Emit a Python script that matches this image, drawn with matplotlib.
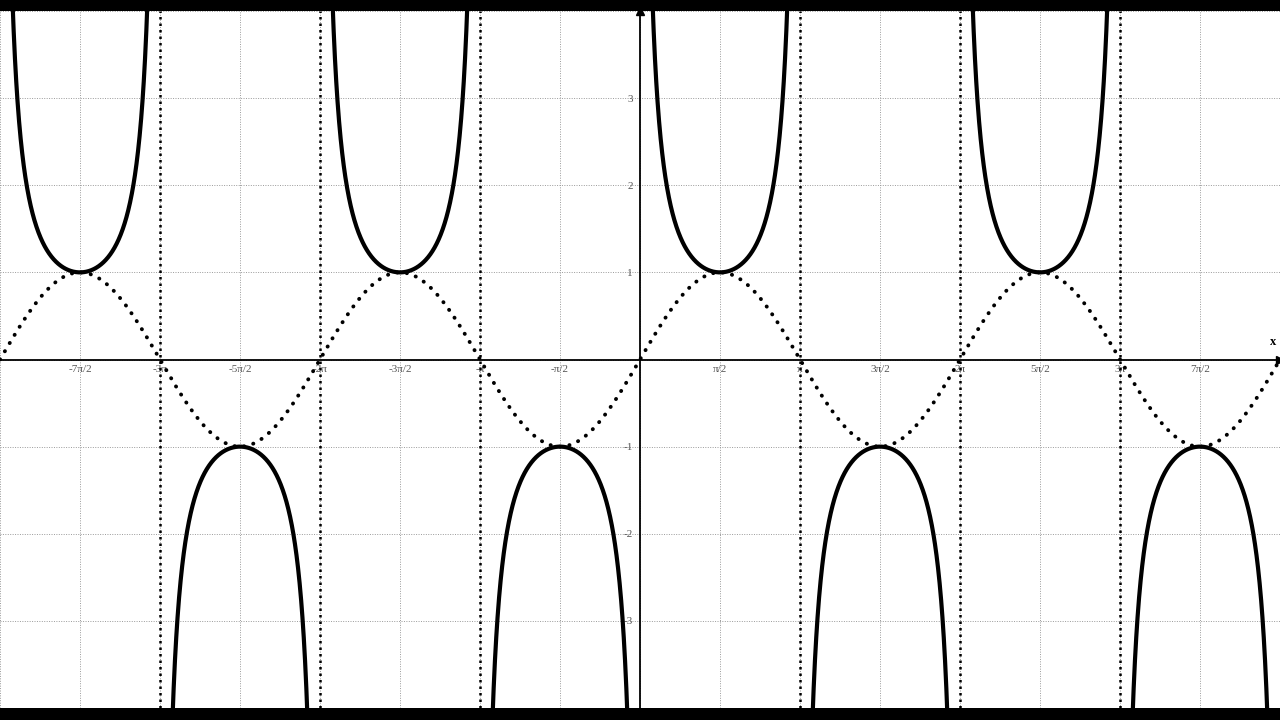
import numpy as np
import matplotlib.pyplot as plt

# x range and ticks (multiples of pi/2)
x_min, x_max = -4 * np.pi, 4 * np.pi
y_min, y_max = -4, 4
half_steps = [-7, -6, -5, -4, -3, -2, -1, 1, 2, 3, 4, 5, 6, 7]
x_tick_labels = ['-7π/2', '-3π', '-5π/2', '-2π', '-3π/2', '-π', '-π/2',
                 'π/2', 'π', '3π/2', '2π', '5π/2', '3π', '7π/2']
y_ticks = [-3, -2, -1, 1, 2, 3]
asymptote_steps = [-3, -2, -1, 1, 2, 3]   # multiples of pi
branch_starts = [-4, -3, -2, -1, 0, 1, 2, 3]  # csc branches start at k*pi

fig = plt.figure(figsize=(12.8, 7.2), dpi=100, facecolor='black')
ax = fig.add_axes([0, 12 / 720, 1, 697 / 720])
ax.set_facecolor('white')
ax.set_xlim(x_min, x_max)
ax.set_ylim(y_min, y_max)

# grid
grid_kw = dict(color='#9a9a9a', linestyle=(0, (1, 1.5)), linewidth=0.7, zorder=1)
for k in range(-8, 9):
    ax.axvline(k * np.pi / 2, **grid_kw)
for v in range(-4, 5):
    ax.axhline(v, **grid_kw)

# asymptotes
for k in asymptote_steps:
    ax.axvline(k * np.pi, color='black', linestyle=(0, (1, 1.6)),
               linewidth=1.8, zorder=2)

# sin(x), dotted
xs = np.linspace(x_min, x_max, 4000)
ax.plot(xs, np.sin(xs), color='black', linewidth=2.8,
        linestyle=(0, (0.05, 2.4)), dash_capstyle='round', zorder=3)

# csc(x), solid branches
for k in branch_starts:
    xb = np.linspace(k * np.pi + 0.05, (k + 1) * np.pi - 0.05, 600)
    ax.plot(xb, 1 / np.sin(xb), color='black', linewidth=3.0, zorder=4)

# axes through origin
for s in ['top', 'right']:
    ax.spines[s].set_visible(False)
ax.spines['left'].set_position(('data', 0))
ax.spines['bottom'].set_position(('data', 0))
for s in ['left', 'bottom']:
    ax.spines[s].set_linewidth(1.3)
    ax.spines[s].set_zorder(5)

ax.set_xticks([h * np.pi / 2 for h in half_steps])
ax.set_xticklabels(x_tick_labels)
ax.set_yticks(y_ticks)
ax.set_yticklabels([str(v) for v in y_ticks])
ax.tick_params(axis='both', length=0, labelsize=8, labelcolor='#555555')
ax.tick_params(axis='x', pad=4)
ax.tick_params(axis='y', pad=5)
for lab in ax.get_xticklabels() + ax.get_yticklabels():
    lab.set_fontfamily('Liberation Serif')

# arrows and axis name
ax.plot([0], [y_max], marker='^', color='black', markersize=6,
        clip_on=False, zorder=6)
ax.plot([x_max], [0], marker='>', color='black', markersize=6,
        clip_on=False, zorder=6)
ax.text(x_max - 0.08, 0.13, 'x', ha='right', va='bottom', fontsize=9,
        fontweight='bold', fontfamily='Liberation Serif')

fig.savefig('out.png', dpi=100, facecolor='black')
